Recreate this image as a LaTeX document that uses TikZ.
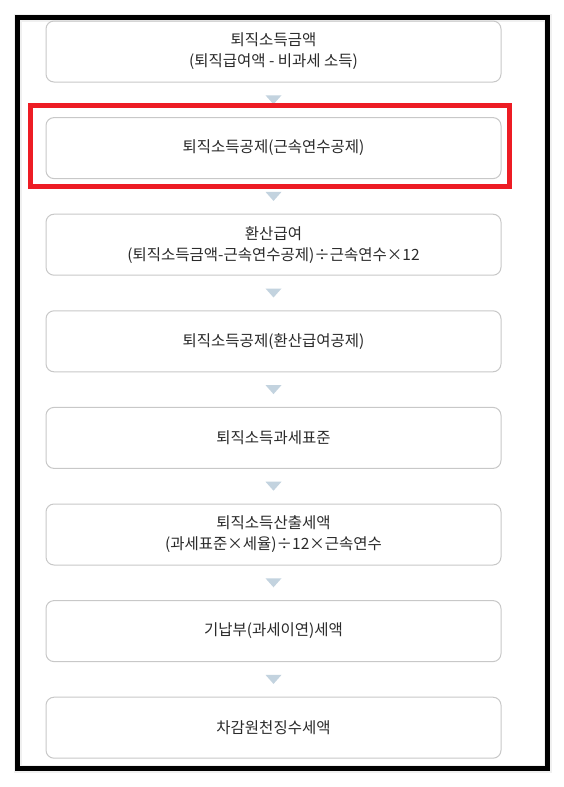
\documentclass[tikz,border=0pt]{standalone}
\usepackage{fontspec}
\newfontfamily\kr{Noto Sans CJK KR}
\usetikzlibrary{calc}
\definecolor{boxline}{HTML}{C8C8C8}
\definecolor{textgray}{HTML}{2A2A2A}
\definecolor{tricol}{HTML}{C3D3DF}
\definecolor{markred}{HTML}{ED1C24}
\tikzset{
  stepbox/.style={draw=boxline, line width=1pt, rounded corners=8pt,
    minimum width=455pt, minimum height=61pt, inner sep=0pt, align=center,
    text=textgray, font=\kr\fontsize{15.5}{21}\selectfont},
}

\begin{document}
\begin{tikzpicture}[x=1pt, y=-1pt]
\useasboundingbox (0,0) rectangle (564,787);
\fill[white] (0,0) rectangle (564,787);
% frame
\draw[line width=8pt, black!6] (17.5,17.5) rectangle (547.5,768.5);
\draw[line width=5.5pt] (17.5,17.5) rectangle (547.5,768.5);
% steps
\node[stepbox] (b1) at (273.5,51.5) {퇴직소득금액\\(퇴직급여액 - 비과세 소득)};
\node[stepbox] (b2) at (273.5,148.1) {퇴직소득공제(근속연수공제)};
\node[stepbox] (b3) at (273.5,244.7) {환산급여\\(퇴직소득금액-근속연수공제)÷근속연수×12};
\node[stepbox] (b4) at (273.5,341.3) {퇴직소득공제(환산급여공제)};
\node[stepbox] (b5) at (273.5,437.9) {퇴직소득과세표준};
\node[stepbox] (b6) at (273.5,534.5) {퇴직소득산출세액\\(과세표준×세율)÷12×근속연수};
\node[stepbox] (b7) at (273.5,631.1) {기납부(과세이연)세액};
\node[stepbox] (b8) at (273.5,727.7) {차감원천징수세액};
% down markers
\foreach \a/\b in {b1/b2,b2/b3,b3/b4,b4/b5,b5/b6,b6/b7,b7/b8}
  \fill[tricol] ($(\a.south)!0.5!(\b.north)$) +(-8,-4.5) -- +(8,-4.5) -- +(0,4.5) -- cycle;
% highlight
\draw[markred, line width=5pt] (30.5,105.5) rectangle (509.5,186.5);
\end{tikzpicture}
\end{document}
